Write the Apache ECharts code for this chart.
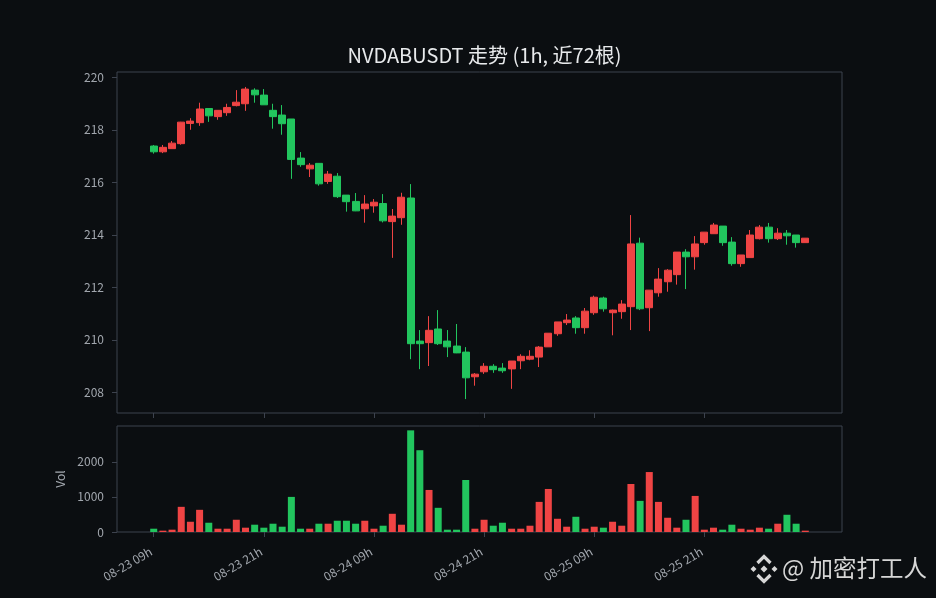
<!DOCTYPE html>
<html>
<head>
<meta charset="utf-8">
<script src="https://cdn.jsdelivr.net/npm/echarts@6/dist/echarts.min.js"></script>
<style>
html,body{margin:0;padding:0;background:#0b0e11;}
#c{width:936px;height:598px;}
</style>
</head>
<body>
<div id="c"></div>
<script>
// ---- data (1h candles, starting 08-23 09h) ----
const opens  = [217.38,217.16,217.28,217.47,218.24,218.27,218.81,218.50,218.65,218.92,218.99,219.51,
                219.32,218.74,218.56,218.41,216.92,216.51,216.72,216.03,216.23,215.51,215.27,214.99,
                215.10,215.19,214.50,214.65,215.40,209.95,209.89,210.41,209.95,209.76,209.53,208.59,
                208.78,208.99,208.92,208.89,209.20,209.26,209.34,209.73,210.23,210.65,210.83,210.46,
                211.03,211.59,211.03,211.07,211.26,213.68,211.22,211.79,212.21,212.48,213.34,213.16,
                213.70,214.04,214.33,213.72,212.90,213.13,213.85,214.29,213.85,214.06,213.99,213.70];
const closes = [217.16,217.33,217.49,218.29,218.33,218.79,218.53,218.74,218.85,219.05,219.55,219.33,
                218.95,218.50,218.23,216.87,216.67,216.65,215.94,216.31,215.45,215.26,214.91,215.17,
                215.24,214.53,214.71,215.43,209.85,209.85,210.36,209.85,209.73,209.50,208.55,208.69,
                208.99,208.86,208.82,209.19,209.37,209.37,209.72,210.25,210.68,210.75,210.46,211.09,
                211.62,211.18,211.13,211.36,213.65,211.18,211.89,212.31,212.65,213.34,213.16,213.65,
                214.10,214.37,213.70,212.90,213.23,213.99,214.29,213.85,214.06,213.96,213.70,213.87];
const lows   = [217.09,217.11,217.27,217.43,218.00,218.15,218.30,218.38,218.53,218.89,218.72,219.03,
                218.95,218.04,217.81,216.13,216.59,216.20,215.87,215.94,215.40,214.88,214.90,214.46,
                214.84,214.47,213.12,214.38,209.26,208.88,209.00,209.80,209.34,209.49,207.74,208.25,
                208.70,208.74,208.74,208.13,208.88,209.22,208.96,209.73,210.15,210.56,210.23,210.23,
                210.95,211.07,210.17,210.80,210.37,211.13,210.33,211.64,211.83,212.10,211.93,212.67,
                213.62,214.04,213.58,212.82,212.78,213.13,213.82,213.70,213.80,213.62,213.51,213.70];
const highs  = [217.42,217.42,217.57,218.30,218.44,219.03,218.81,218.75,218.99,219.51,219.63,219.58,
                219.55,218.99,218.94,218.41,217.15,216.73,216.72,216.43,216.35,215.51,215.59,215.51,
                215.36,215.55,214.98,215.60,215.93,210.37,210.90,211.13,210.37,210.60,209.72,208.73,
                209.11,209.07,209.11,209.19,209.45,209.60,209.76,210.25,210.68,210.98,210.90,211.21,
                211.68,211.64,211.15,211.51,214.75,213.89,211.89,212.73,212.69,213.34,213.45,213.95,
                214.10,214.45,214.33,213.91,213.23,214.18,214.37,214.45,214.25,214.18,213.99,213.87];
const volumes = [94,38,66,717,292,632,264,94,94,349,123,208,
                 123,236,151,1000,94,94,236,236,321,321,236,321,
                 94,179,519,208,2896,2330,1198,689,66,66,1481,94,
                 349,179,264,94,94,179,858,1226,377,151,434,94,
                 151,123,292,179,1368,887,1708,858,406,123,349,1028,
                 66,123,66,208,94,66,123,94,236,491,236,38];
const tickLabels = ['08-23 09h','08-23 21h','08-24 09h','08-24 21h','08-25 09h','08-25 21h'];
const tickCandleIdx = [0,12,24,36,48,60];
const priceTicks = [208,210,212,214,216,218,220];
const volTicks = [0,1000,2000];

// ---- build ----
const PAD = 4;
const N = opens.length;
const UP = '#ef4444', DOWN = '#22c55e';
const AXIS = '#3d434e', TXT = '#a2a7ae';
const FONT = 'Noto Sans CJK SC';

const cats = [];
for (let i = -PAD; i < N + PAD; i++) {
  const pos = tickCandleIdx.indexOf(i);
  cats.push(pos >= 0 ? tickLabels[pos] : 'c' + i);
}
const kData = [], vData = [];
for (let i = 0; i < PAD; i++) { kData.push('-'); vData.push('-'); }
for (let i = 0; i < N; i++) {
  kData.push([opens[i], closes[i], lows[i], highs[i]]);
  vData.push({value: volumes[i], itemStyle: {color: closes[i] >= opens[i] ? UP : DOWN}});
}
for (let i = 0; i < PAD; i++) { kData.push('-'); vData.push('-'); }

const showTick = function (idx) {
  return tickCandleIdx.indexOf(idx - PAD) >= 0;
};

const chart = echarts.init(document.getElementById('c'), null, {renderer: 'canvas'});
const option = {
  backgroundColor: '#0b0e11',
  animation: false,
  title: {
    text: 'NVDABUSDT 走势 (1h, 近72根)',
    left: 479.5, textAlign: 'center', top: 40,
    textStyle: {color: '#e8eaec', fontSize: 20, fontWeight: 'normal', fontFamily: FONT}
  },
  grid: [
    {left: 117, right: 94, top: 72, height: 341, show: true, borderColor: AXIS, borderWidth: 1},
    {left: 117, right: 94, top: 426, height: 106, show: true, borderColor: AXIS, borderWidth: 1}
  ],
  xAxis: [
    {
      type: 'category', gridIndex: 0, data: cats, boundaryGap: false,
      axisLine: {show: false, onZero: false},
      axisTick: {show: true, interval: showTick, length: 5, lineStyle: {color: AXIS}},
      axisLabel: {show: false},
      splitLine: {show: false}
    },
    {
      type: 'category', gridIndex: 1, data: cats, boundaryGap: false,
      axisLine: {show: false, onZero: false},
      axisTick: {show: true, interval: showTick, length: 5, lineStyle: {color: AXIS}},
      axisLabel: {interval: showTick, rotate: 30, color: TXT, fontSize: 12, fontFamily: FONT, margin: 17,
                  padding: [0, 3, 0, 0]},
      splitLine: {show: false}
    }
  ],
  yAxis: [
    {
      type: 'value', gridIndex: 0, min: 207.21, max: 220.2, scale: true,
      axisLine: {show: false},
      axisTick: {show: true, length: 5, customValues: priceTicks, lineStyle: {color: AXIS}},
      axisLabel: {customValues: priceTicks, color: TXT, fontSize: 12, fontFamily: FONT, margin: 13,
                  formatter: function (v) { return String(v); }},
      splitLine: {show: false}
    },
    {
      type: 'value', gridIndex: 1, min: 0, max: 3020,
      name: 'Vol', nameLocation: 'middle', nameGap: 46, nameRotate: 90,
      nameTextStyle: {color: TXT, fontSize: 12, fontFamily: FONT},
      axisLine: {show: false},
      axisTick: {show: true, length: 5, customValues: volTicks, lineStyle: {color: AXIS}},
      axisLabel: {customValues: volTicks, color: TXT, fontSize: 12, fontFamily: FONT, margin: 13,
                  formatter: function (v) { return String(v); }},
      splitLine: {show: false}
    }
  ],
  series: [
    {
      type: 'candlestick', xAxisIndex: 0, yAxisIndex: 0, data: kData, barWidth: 7.5,
      itemStyle: {color: UP, color0: DOWN, borderColor: UP, borderColor0: DOWN, borderWidth: 1}
    },
    {
      type: 'bar', xAxisIndex: 1, yAxisIndex: 1, data: vData, barWidth: 7
    }
  ],
  graphic: [
    // watermark logo
    {type: 'polygon', shape: {points: [[764, 565.5], [767.5, 569], [764, 572.5], [760.5, 569]]}, style: {fill: '#d6d6d6'}},
    {type: 'polygon', shape: {points: [[753.5, 566], [756.5, 569], [753.5, 572], [750.5, 569]]}, style: {fill: '#d6d6d6'}},
    {type: 'polygon', shape: {points: [[774.5, 566], [777.5, 569], [774.5, 572], [771.5, 569]]}, style: {fill: '#d6d6d6'}},
    {type: 'polyline', shape: {points: [[757.5, 563], [764, 556.5], [770.5, 563]]}, style: {stroke: '#d6d6d6', lineWidth: 3.2, fill: null}},
    {type: 'polyline', shape: {points: [[757.5, 575], [764, 581.5], [770.5, 575]]}, style: {stroke: '#d6d6d6', lineWidth: 3.2, fill: null}},
    {type: 'text', left: 782, top: 556, style: {text: '@ 加密打工人', fill: '#d6d6d6', fontSize: 23.5, fontFamily: FONT}}
  ]
};
chart.setOption(option);
</script>
</body>
</html>
